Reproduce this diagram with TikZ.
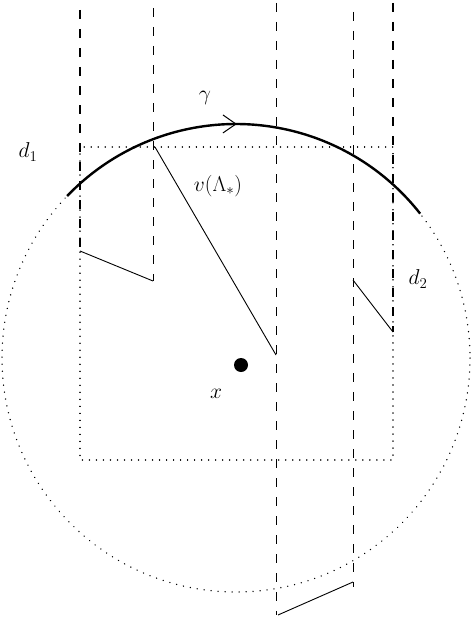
\documentclass[tikz,border=0pt]{standalone}
\usetikzlibrary{arrows.meta}
\begin{document}
\begin{tikzpicture}[x=1pt,y=-1pt,
  thinDash/.style={line width=0.9pt,dash pattern=on 9pt off 10pt},
  thickDash/.style={line width=1.8pt,dash pattern=on 9pt off 10pt},
  dotline/.style={line width=1.5pt,dash pattern=on 0.01pt off 7pt,line cap=round},
  seg/.style={line width=0.9pt},
  lbl/.style={font=\LARGE,scale=1.244}]
\useasboundingbox (0,0) rectangle (474,618);
% dotted circle and rectangle
\coordinate (c) at (236,358);
\draw[dotline] (c) circle[radius=234];
\draw[dotline] (80,147) rectangle (393,460);
% vertical dashed lines
\coordinate (a1) at (80,10);   \coordinate (a2) at (80,247);
\coordinate (b1) at (153,8);   \coordinate (b2) at (153,281);
\coordinate (c1) at (276,3);   \coordinate (c2) at (276,615);
\coordinate (d1) at (353,12);  \coordinate (d2) at (353,587);
\coordinate (e1) at (393,3);   \coordinate (e2) at (393,332);
\draw[thickDash] (a1) -- (a2);
\draw[thinDash] (b1) -- (b2);
\draw[thinDash] (c1) -- (c2);
\draw[thinDash] (d1) -- (d2);
\draw[thickDash] (e1) -- (e2);
% solid segments
\coordinate (s1) at (80,251);  \coordinate (s2) at (153,281);
\coordinate (v1) at (155,147); \coordinate (v2) at (276,355);
\coordinate (t1) at (353,280); \coordinate (t2) at (393,332);
\coordinate (u1) at (278,615); \coordinate (u2) at (353,582);
\draw[seg] (s1) -- (s2);
\draw[seg] (v1) -- (v2);
\draw[seg] (t1) -- (t2);
\draw[seg] (u1) -- (u2);
% arc gamma
\draw[line width=2.4pt] (c) ++(-136.2:234) arc[start angle=-136.2,end angle=-38.1,radius=234];
\draw[line width=1pt,-{Straight Barb[length=13pt,width=18pt,line width=1pt]}] (c) ++(-100:234) arc[start angle=-100,end angle=-89.8,radius=234];
% point x
\node[circle,fill=black,inner sep=0pt,minimum size=14pt] (pt) at (241,365) {};
% labels
\node[lbl] (ld1) at (28,152) {$d_1$};
\node[lbl] (lg) at (205,98) {$\gamma$};
\node[lbl] (lv) at (218,186) {$v(\Lambda_*)$};
\node[lbl] (ld2) at (418,279) {$d_2$};
\node[lbl] (lx) at (216,394) {$x$};
\end{tikzpicture}
\end{document}
